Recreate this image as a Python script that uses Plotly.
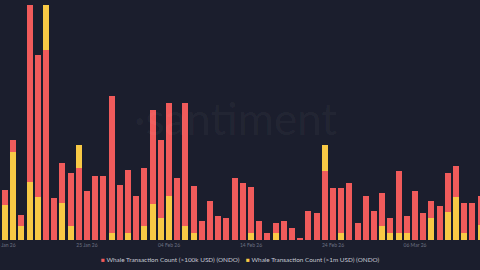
import plotly.graph_objects as go
import pandas as pd

dates = pd.date_range("2026-01-15", periods=59, freq="D")

# Whale transaction counts (>1m USD) segment and (>100k USD) segment
whale_1m = [35, 88, 14, 58, 43, 45, 0, 37, 14, 23, 0, 0, 0, 7, 0, 7, 0, 14, 36, 22,
            44, 0, 14, 7, 0, 0, 0, 0, 0, 0, 7, 0, 0, 7, 0, 0, 0, 0, 0, 26,
            0, 7, 0, 0, 0, 0, 14, 7, 7, 7, 0, 0, 22, 0, 28, 43, 7, 0, 15]
whale_100k = [15, 12, 11, 177, 142, 190, 42, 40, 53, 72, 49, 64, 64, 137, 55, 63, 44, 58, 94, 78,
              93, 62, 123, 47, 19, 39, 24, 22, 62, 57, 46, 19, 7, 10, 19, 12, 2, 29, 27, 69,
              52, 45, 57, 17, 44, 29, 33, 15, 62, 17, 49, 27, 17, 34, 39, 31, 30, 37, 29]
# days where the >1m segment sits on top of the >100k segment
on_top_days = ["2026-01-20", "2026-01-24", "2026-02-23"]

tick_vals = pd.date_range("2026-01-15", periods=6, freq="10D")
tick_text = [d.strftime("%d %b %y") for d in tick_vals]

NAME_K = "Whale Transaction Count (>100k USD) (ONDO)"
NAME_M = "Whale Transaction Count (>1m USD) (ONDO)"

RED = "#f05b5b"
YEL = "#f8c945"
BG = "#1b1e2d"

on_top = set(pd.to_datetime(on_top_days))
y_low = [v if d not in on_top else 0 for d, v in zip(dates, whale_1m)]
y_high = [v if d in on_top else 0 for d, v in zip(dates, whale_1m)]

fig = go.Figure()
fig.add_trace(go.Bar(x=dates, y=y_low, marker_color=YEL, marker_line_width=0, name=NAME_M))
fig.add_trace(go.Bar(x=dates, y=whale_100k, marker_color=RED, marker_line_width=0, name=NAME_K))
fig.add_trace(go.Bar(x=dates, y=y_high, marker_color=YEL, marker_line_width=0, name=NAME_M))

start = pd.Timestamp("2026-01-15") - pd.Timedelta(hours=24 * 5 / 8.2)
end = pd.Timestamp("2026-01-15") + pd.Timedelta(hours=24 * 475 / 8.2)

legend_text = (f"<span style='color:{RED}'>■</span> {NAME_K}"
               f"&nbsp;&nbsp;&nbsp;&nbsp;<span style='color:{YEL}'>■</span> {NAME_M}")

fig.update_layout(
    width=480, height=270,
    barmode="stack", bargap=0.27,
    paper_bgcolor=BG, plot_bgcolor=BG,
    margin=dict(l=0, r=0, t=5, b=30, autoexpand=False),
    showlegend=False,
    xaxis=dict(range=[start, end], tickvals=tick_vals, ticktext=tick_text,
               showgrid=False, zeroline=False, showline=False, ticks="",
               automargin=False,
               ticklabeloverflow="allow", ticklabelstandoff=1,
               tickfont=dict(family="Lato", size=5, color="#6d7283")),
    yaxis=dict(range=[0, 235], visible=False, showgrid=False, zeroline=False,
               automargin=False),
    annotations=[
        dict(text="·santiment", x=0.49, y=0.52, xref="paper", yref="paper",
             showarrow=False,
             font=dict(family="Lato", size=44, color="rgba(255,255,255,0.045)")),
        dict(text=legend_text, x=0.5, y=-0.085, xref="paper", yref="paper",
             xanchor="center", yanchor="middle", showarrow=False,
             font=dict(family="Lato", size=6.4, color="#c5c8d3")),
    ],
)

fig.write_html("out.html")
